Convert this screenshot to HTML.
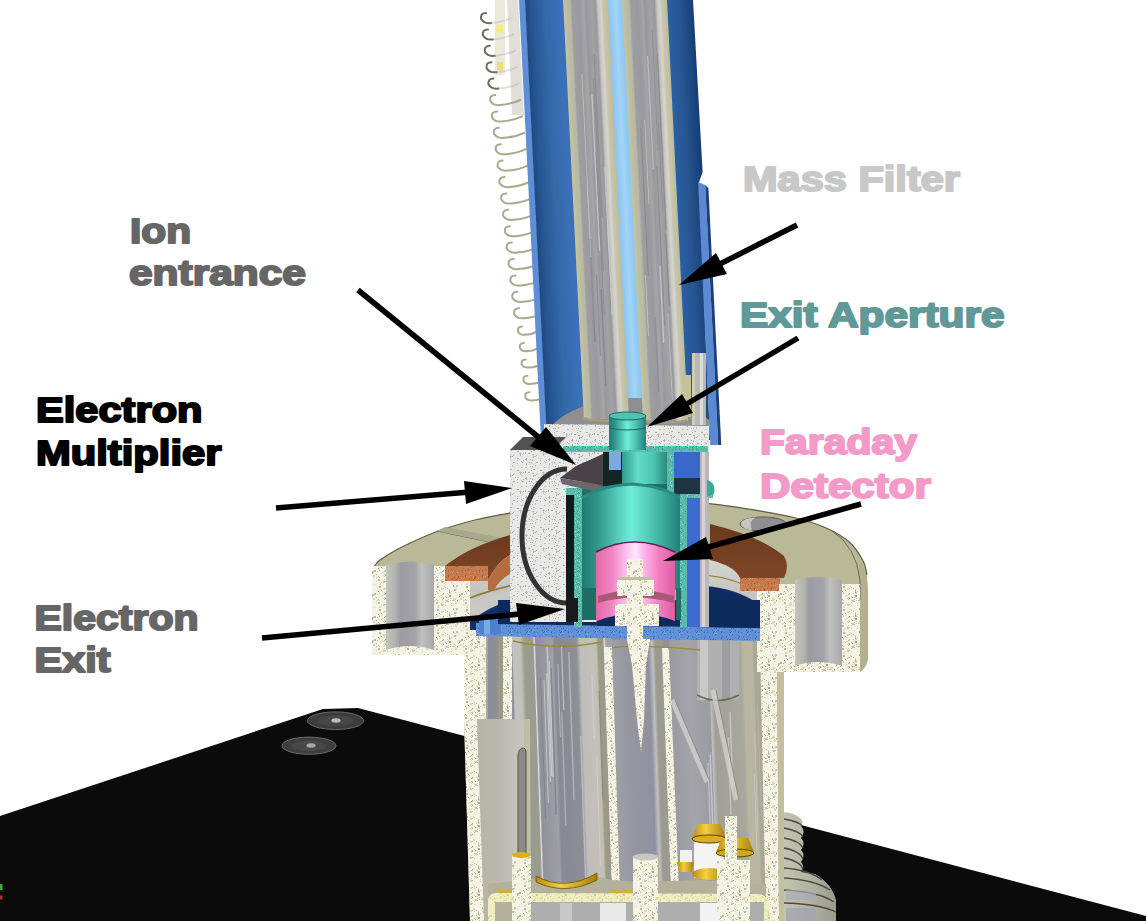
<!DOCTYPE html>
<html><head><meta charset="utf-8">
<style>
html,body{margin:0;padding:0;background:#fff;width:1146px;height:921px;overflow:hidden}
svg{display:block}
text{font-family:"Liberation Sans",sans-serif;font-weight:bold}
</style></head>
<body>
<svg width="1146" height="921" viewBox="0 0 1146 921">
<defs>
  <linearGradient id="gBlueL" x1="0" x2="1">
    <stop offset="0" stop-color="#1e4a80"/><stop offset="0.15" stop-color="#265592"/><stop offset="0.5" stop-color="#3468a8"/><stop offset="0.85" stop-color="#3c70b8"/><stop offset="1" stop-color="#3a6eb8"/>
  </linearGradient>
  <linearGradient id="gBlueR" x1="0" x2="1">
    <stop offset="0" stop-color="#2c62aa"/><stop offset="0.5" stop-color="#26548f"/><stop offset="0.85" stop-color="#1a447e"/><stop offset="1" stop-color="#143a74"/>
  </linearGradient>
  <linearGradient id="gRod" x1="0" x2="1">
    <stop offset="0" stop-color="#c4c4a6"/><stop offset="0.08" stop-color="#bcbda0"/><stop offset="0.15" stop-color="#b8b8a6"/><stop offset="0.19" stop-color="#9e9ea2"/>
    <stop offset="0.35" stop-color="#9a9a9e"/><stop offset="0.45" stop-color="#a6a6a8"/><stop offset="0.5" stop-color="#9898a0"/><stop offset="0.62" stop-color="#a2a2a4"/><stop offset="0.72" stop-color="#9a9a9e"/>
    <stop offset="0.77" stop-color="#c6c6c2"/><stop offset="0.84" stop-color="#d6d4cc"/><stop offset="0.88" stop-color="#c8c6ac"/><stop offset="1" stop-color="#bebc9e"/>
  </linearGradient>
  <linearGradient id="gLB" x1="0" x2="1"><stop offset="0" stop-color="#84c0ee"/><stop offset="0.5" stop-color="#a2d4f8"/><stop offset="1" stop-color="#86c2ee"/></linearGradient>
  <linearGradient id="gTeal" x1="0" x2="1">
    <stop offset="0" stop-color="#1f7a70"/><stop offset="0.15" stop-color="#2f9488"/><stop offset="0.5" stop-color="#6eeedc"/><stop offset="0.7" stop-color="#50c8b4"/><stop offset="1" stop-color="#23807a"/>
  </linearGradient>
  <linearGradient id="gTeal2" x1="0" x2="1">
    <stop offset="0" stop-color="#2f9c8c"/><stop offset="0.35" stop-color="#62dcc8"/><stop offset="0.7" stop-color="#4cc6b2"/><stop offset="1" stop-color="#2a8a7c"/>
  </linearGradient>
  <linearGradient id="gPink" x1="0" x2="1">
    <stop offset="0" stop-color="#e46aa6"/><stop offset="0.2" stop-color="#f084c4"/><stop offset="0.38" stop-color="#ffbef0"/><stop offset="0.5" stop-color="#ffe6fc"/><stop offset="0.62" stop-color="#fcb0ea"/><stop offset="0.8" stop-color="#f27cc0"/><stop offset="1" stop-color="#de5ea2"/>
  </linearGradient>
  <linearGradient id="gRodL" x1="0" x2="1">
    <stop offset="0" stop-color="#a8aa98"/><stop offset="0.08" stop-color="#a8aa98"/><stop offset="0.12" stop-color="#8c8c98"/><stop offset="0.6" stop-color="#8e8e98"/><stop offset="0.66" stop-color="#9a9a88"/><stop offset="1" stop-color="#9a9a88"/>
  </linearGradient>
  <linearGradient id="gCylG" x1="0" x2="1">
    <stop offset="0" stop-color="#c4c4bc"/><stop offset="0.18" stop-color="#b4b4b0"/><stop offset="0.3" stop-color="#9c9ca2"/><stop offset="0.6" stop-color="#a2a2a8"/><stop offset="0.75" stop-color="#c0c0c0"/><stop offset="1" stop-color="#a8a8a8"/>
  </linearGradient>
  <linearGradient id="gBig" x1="0" x2="1">
    <stop offset="0" stop-color="#c2c2be"/><stop offset="0.08" stop-color="#c0c0bc"/><stop offset="0.09" stop-color="#b8b8a0"/><stop offset="0.12" stop-color="#9a9c90"/>
    <stop offset="0.21" stop-color="#9a9c90"/><stop offset="0.22" stop-color="#e6e6e6"/><stop offset="0.235" stop-color="#90909a"/><stop offset="0.4" stop-color="#a0a0a8"/><stop offset="0.42" stop-color="#8a8a94"/><stop offset="0.5" stop-color="#8a8a94"/>
    <stop offset="0.64" stop-color="#8e8e96"/><stop offset="0.68" stop-color="#c0bebc"/><stop offset="0.82" stop-color="#c2c0b8"/><stop offset="0.84" stop-color="#c4c0a4"/>
    <stop offset="0.86" stop-color="#9a9a8c"/><stop offset="0.91" stop-color="#9a9a8c"/><stop offset="0.92" stop-color="#e0e0e0"/><stop offset="0.94" stop-color="#a0a0a0"/><stop offset="1" stop-color="#a0a0a0"/>
  </linearGradient>
  <linearGradient id="gPanel" x1="0" x2="1">
    <stop offset="0" stop-color="#b6b4a6"/><stop offset="0.5" stop-color="#bcbab0"/><stop offset="1" stop-color="#c6c4c0"/>
  </linearGradient>
  <linearGradient id="gMidG" x1="0" x2="1">
    <stop offset="0" stop-color="#9e9ea6"/><stop offset="0.3" stop-color="#9696a0"/><stop offset="0.72" stop-color="#9090a0"/><stop offset="0.8" stop-color="#c0c0c0"/><stop offset="0.86" stop-color="#9a9a90"/><stop offset="1" stop-color="#9a9a90"/>
  </linearGradient>
  <linearGradient id="gRightG" x1="0" x2="1">
    <stop offset="0" stop-color="#9a9aa2"/><stop offset="0.2" stop-color="#a4a4aa"/><stop offset="0.42" stop-color="#9a9aa2"/><stop offset="0.43" stop-color="#c0c0c0"/><stop offset="0.47" stop-color="#a0a098"/>
    <stop offset="0.77" stop-color="#a8a89c"/><stop offset="0.8" stop-color="#b8b6a0"/><stop offset="0.9" stop-color="#b8b6a0"/><stop offset="0.92" stop-color="#a8a894"/><stop offset="1" stop-color="#a8a894"/>
  </linearGradient>
  <linearGradient id="gKhakiSide" x1="0" x2="1">
    <stop offset="0" stop-color="#d2ceaa"/><stop offset="1" stop-color="#b8b494"/>
  </linearGradient>
  <linearGradient id="gBrownTop" x1="0" x2="0" y1="0" y2="1">
    <stop offset="0" stop-color="#6a3a1c"/><stop offset="1" stop-color="#7e4626"/>
  </linearGradient>
  <linearGradient id="gRings" x1="0" x2="0" y1="0" y2="1">
    <stop offset="0" stop-color="#d6d6d0"/><stop offset="0.5" stop-color="#c4c4c0"/><stop offset="1" stop-color="#cfcfca"/>
  </linearGradient>
  <linearGradient id="gGold" x1="0" x2="1">
    <stop offset="0" stop-color="#b88a10"/><stop offset="0.4" stop-color="#f4d040"/><stop offset="1" stop-color="#a87c08"/>
  </linearGradient>
  <linearGradient id="gInsul" x1="0" x2="1">
    <stop offset="0" stop-color="#c6c5b2"/><stop offset="0.5" stop-color="#b4b3a2"/><stop offset="1" stop-color="#9a998c"/>
  </linearGradient>
  <pattern id="speck" width="29" height="23" patternUnits="userSpaceOnUse">
    <rect width="29" height="23" fill="#f4f3e6"/>
    <rect x="14" y="17" width="2" height="2" fill="#d8d6c0"/><rect x="14" y="16" width="1" height="1" fill="#d8d6c0"/><rect x="5" y="16" width="1" height="1" fill="#dcdab8"/><rect x="3" y="14" width="1" height="1" fill="#a8a684"/><rect x="2" y="17" width="1" height="1" fill="#d8d6c0"/><rect x="19" y="12" width="1" height="1" fill="#dcdab8"/><rect x="19" y="0" width="1" height="1" fill="#d8d6c0"/><rect x="1" y="1" width="1" height="1" fill="#bdbb98"/><rect x="19" y="0" width="2" height="2" fill="#d8d6c0"/><rect x="10" y="14" width="1" height="1" fill="#e4e090"/><rect x="16" y="7" width="1" height="1" fill="#c4c4b4"/><rect x="15" y="0" width="1" height="1" fill="#c4c4b4"/><rect x="14" y="20" width="2" height="2" fill="#a8a684"/><rect x="17" y="2" width="1" height="1" fill="#c4c4b4"/><rect x="10" y="7" width="1" height="1" fill="#e4e090"/><rect x="0" y="2" width="1" height="1" fill="#e4e090"/><rect x="12" y="3" width="1" height="1" fill="#d8d6c0"/><rect x="12" y="2" width="1" height="1" fill="#cfcdb4"/><rect x="6" y="6" width="2" height="2" fill="#cfcdb4"/><rect x="12" y="22" width="2" height="2" fill="#dcdab8"/><rect x="2" y="18" width="1" height="1" fill="#c4c4b4"/><rect x="24" y="21" width="1" height="1" fill="#a8a684"/><rect x="2" y="9" width="1" height="1" fill="#a8a684"/><rect x="13" y="3" width="1" height="1" fill="#bdbb98"/><rect x="22" y="3" width="1" height="1" fill="#cfcdb4"/><rect x="14" y="15" width="1" height="1" fill="#bdbb98"/><rect x="14" y="16" width="1" height="1" fill="#bdbb98"/><rect x="13" y="20" width="1" height="1" fill="#dcdab8"/><rect x="12" y="13" width="1" height="1" fill="#bdbb98"/><rect x="8" y="18" width="1" height="1" fill="#a8a684"/><rect x="6" y="5" width="1" height="1" fill="#dcdab8"/><rect x="1" y="4" width="2" height="2" fill="#bdbb98"/><rect x="8" y="0" width="1" height="1" fill="#d8d6c0"/><rect x="26" y="9" width="1" height="1" fill="#dcdab8"/><rect x="2" y="2" width="1" height="1" fill="#bdbb98"/><rect x="0" y="19" width="1" height="1" fill="#a8a684"/><rect x="19" y="14" width="2" height="2" fill="#bdbb98"/><rect x="26" y="18" width="2" height="2" fill="#bdbb98"/><rect x="5" y="20" width="1" height="1" fill="#bdbb98"/><rect x="7" y="19" width="1" height="1" fill="#bdbb98"/><rect x="5" y="20" width="1" height="1" fill="#e4e090"/><rect x="21" y="12" width="1" height="1" fill="#dcdab8"/><rect x="13" y="1" width="1" height="1" fill="#cfcdb4"/><rect x="1" y="16" width="1" height="1" fill="#a8a684"/><rect x="23" y="22" width="1" height="1" fill="#dcdab8"/><rect x="13" y="19" width="1" height="1" fill="#dcdab8"/><rect x="16" y="5" width="1" height="1" fill="#c4c4b4"/><rect x="4" y="7" width="1" height="1" fill="#dcdab8"/><rect x="8" y="6" width="1" height="1" fill="#bdbb98"/><rect x="2" y="8" width="2" height="2" fill="#dcdab8"/><rect x="7" y="1" width="1" height="1" fill="#cfcdb4"/><rect x="9" y="11" width="1" height="1" fill="#e4e090"/><rect x="2" y="11" width="2" height="2" fill="#bdbb98"/><rect x="10" y="21" width="1" height="1" fill="#c4c4b4"/><rect x="18" y="1" width="2" height="2" fill="#cfcdb4"/><rect x="11" y="22" width="1" height="1" fill="#a8a684"/><rect x="0" y="19" width="1" height="1" fill="#c4c4b4"/><rect x="15" y="2" width="1" height="1" fill="#c4c4b4"/><rect x="10" y="4" width="1" height="1" fill="#cfcdb4"/><rect x="14" y="17" width="1" height="1" fill="#a8a684"/><rect x="28" y="22" width="1" height="1" fill="#bdbb98"/><rect x="11" y="2" width="2" height="2" fill="#c4c4b4"/><rect x="28" y="2" width="2" height="2" fill="#d8d6c0"/><rect x="25" y="0" width="2" height="2" fill="#d8d6c0"/><rect x="18" y="0" width="2" height="2" fill="#e4e090"/><rect x="12" y="18" width="1" height="1" fill="#cfcdb4"/><rect x="2" y="2" width="1" height="1" fill="#c4c4b4"/><rect x="8" y="13" width="1" height="1" fill="#c4c4b4"/><rect x="12" y="22" width="2" height="2" fill="#e4e090"/><rect x="14" y="14" width="1" height="1" fill="#d8d6c0"/><rect x="16" y="16" width="1" height="1" fill="#cfcdb4"/><rect x="19" y="2" width="1" height="1" fill="#dcdab8"/><rect x="7" y="22" width="2" height="2" fill="#cfcdb4"/><rect x="24" y="19" width="2" height="2" fill="#c4c4b4"/><rect x="8" y="0" width="1" height="1" fill="#a8a684"/><rect x="4" y="21" width="1" height="1" fill="#e4e090"/><rect x="16" y="5" width="1" height="1" fill="#d8d6c0"/><rect x="21" y="14" width="1" height="1" fill="#dcdab8"/><rect x="10" y="12" width="1" height="1" fill="#c4c4b4"/><rect x="6" y="20" width="1" height="1" fill="#dcdab8"/><rect x="28" y="6" width="1" height="1" fill="#dcdab8"/><rect x="18" y="10" width="1" height="1" fill="#bdbb98"/><rect x="4" y="15" width="1" height="1" fill="#a8a684"/><rect x="22" y="2" width="1" height="1" fill="#a8a684"/><rect x="3" y="14" width="1" height="1" fill="#dcdab8"/><rect x="6" y="13" width="2" height="2" fill="#dcdab8"/><rect x="21" y="10" width="2" height="2" fill="#c4c4b4"/><rect x="10" y="2" width="1" height="1" fill="#d8d6c0"/><rect x="8" y="19" width="1" height="1" fill="#cfcdb4"/><rect x="18" y="11" width="1" height="1" fill="#a8a684"/><rect x="20" y="4" width="2" height="2" fill="#dcdab8"/><rect x="6" y="0" width="1" height="1" fill="#d8d6c0"/><rect x="7" y="4" width="1" height="1" fill="#d8d6c0"/><rect x="20" y="3" width="1" height="1" fill="#dcdab8"/><rect x="20" y="17" width="1" height="1" fill="#c4c4b4"/>
  </pattern>
  <pattern id="speckG" width="23" height="19" patternUnits="userSpaceOnUse">
    <rect width="23" height="19" fill="#e8e8e6"/>
    <rect x="20" y="8" width="1" height="1" fill="#acacac"/><rect x="19" y="11" width="1" height="1" fill="#d4d4d4"/><rect x="3" y="3" width="1" height="1" fill="#d4d4d4"/><rect x="14" y="15" width="1" height="1" fill="#d4d4d4"/><rect x="9" y="2" width="1" height="1" fill="#c8c8c8"/><rect x="3" y="10" width="1" height="1" fill="#acacac"/><rect x="15" y="5" width="1" height="1" fill="#b4b4b4"/><rect x="0" y="6" width="1" height="1" fill="#b4b4b4"/><rect x="11" y="4" width="1" height="1" fill="#b4b4b4"/><rect x="0" y="16" width="1" height="1" fill="#acacac"/><rect x="20" y="2" width="1" height="1" fill="#acacac"/><rect x="16" y="11" width="1" height="1" fill="#c8c8c8"/><rect x="11" y="7" width="1" height="1" fill="#b4b4b4"/><rect x="17" y="16" width="1" height="1" fill="#acacac"/><rect x="20" y="7" width="1" height="1" fill="#b4b4b4"/><rect x="6" y="7" width="1" height="1" fill="#d4d4d4"/><rect x="7" y="6" width="1" height="1" fill="#b4b4b4"/><rect x="15" y="11" width="1" height="1" fill="#bcbcbc"/><rect x="0" y="8" width="1" height="1" fill="#d4d4d4"/><rect x="8" y="6" width="1" height="1" fill="#b4b4b4"/><rect x="11" y="14" width="1" height="1" fill="#acacac"/><rect x="11" y="2" width="1" height="1" fill="#c8c8c8"/><rect x="3" y="7" width="1" height="1" fill="#d4d4d4"/><rect x="6" y="10" width="1" height="1" fill="#c8c8c8"/><rect x="15" y="0" width="1" height="1" fill="#d4d4d4"/><rect x="20" y="11" width="1" height="1" fill="#bcbcbc"/><rect x="21" y="3" width="1" height="1" fill="#d4d4d4"/><rect x="22" y="6" width="1" height="1" fill="#d4d4d4"/><rect x="5" y="13" width="1" height="1" fill="#acacac"/><rect x="2" y="12" width="1" height="1" fill="#d4d4d4"/><rect x="12" y="2" width="1" height="1" fill="#c8c8c8"/><rect x="5" y="4" width="1" height="1" fill="#bcbcbc"/><rect x="4" y="18" width="1" height="1" fill="#d4d4d4"/><rect x="20" y="4" width="1" height="1" fill="#b4b4b4"/><rect x="19" y="15" width="1" height="1" fill="#acacac"/><rect x="4" y="17" width="1" height="1" fill="#b4b4b4"/><rect x="4" y="0" width="1" height="1" fill="#bcbcbc"/><rect x="20" y="3" width="1" height="1" fill="#b4b4b4"/><rect x="4" y="13" width="1" height="1" fill="#c8c8c8"/><rect x="6" y="0" width="1" height="1" fill="#acacac"/><rect x="6" y="9" width="1" height="1" fill="#b4b4b4"/><rect x="7" y="18" width="1" height="1" fill="#acacac"/><rect x="8" y="17" width="1" height="1" fill="#d4d4d4"/><rect x="4" y="1" width="1" height="1" fill="#acacac"/><rect x="14" y="18" width="1" height="1" fill="#b4b4b4"/><rect x="13" y="16" width="1" height="1" fill="#c8c8c8"/><rect x="17" y="4" width="1" height="1" fill="#b4b4b4"/><rect x="16" y="0" width="1" height="1" fill="#d4d4d4"/><rect x="5" y="0" width="1" height="1" fill="#c8c8c8"/><rect x="5" y="4" width="1" height="1" fill="#d4d4d4"/><rect x="19" y="3" width="1" height="1" fill="#b4b4b4"/><rect x="1" y="10" width="1" height="1" fill="#b4b4b4"/><rect x="16" y="17" width="1" height="1" fill="#d4d4d4"/><rect x="3" y="17" width="1" height="1" fill="#bcbcbc"/><rect x="7" y="6" width="1" height="1" fill="#acacac"/><rect x="1" y="3" width="1" height="1" fill="#b4b4b4"/><rect x="14" y="17" width="1" height="1" fill="#bcbcbc"/><rect x="2" y="14" width="1" height="1" fill="#acacac"/><rect x="19" y="16" width="1" height="1" fill="#b4b4b4"/><rect x="16" y="6" width="1" height="1" fill="#acacac"/><rect x="14" y="16" width="1" height="1" fill="#b4b4b4"/><rect x="15" y="16" width="1" height="1" fill="#c8c8c8"/><rect x="22" y="16" width="1" height="1" fill="#acacac"/><rect x="17" y="6" width="1" height="1" fill="#d4d4d4"/><rect x="4" y="13" width="1" height="1" fill="#bcbcbc"/><rect x="12" y="14" width="1" height="1" fill="#acacac"/><rect x="2" y="7" width="1" height="1" fill="#d4d4d4"/><rect x="2" y="6" width="1" height="1" fill="#acacac"/><rect x="3" y="4" width="1" height="1" fill="#acacac"/><rect x="4" y="8" width="1" height="1" fill="#c8c8c8"/>
  </pattern>
  <pattern id="speckT" width="17" height="13" patternUnits="userSpaceOnUse">
    <rect width="17" height="13" fill="#5cbcac"/>
    <rect x="14" y="3" width="1" height="1" fill="#8ad8c8"/><rect x="12" y="7" width="1" height="1" fill="#3a9a8a"/><rect x="7" y="2" width="1" height="1" fill="#7accbc"/><rect x="16" y="6" width="1" height="1" fill="#4aa898"/><rect x="13" y="3" width="1" height="1" fill="#4aa898"/><rect x="10" y="1" width="1" height="1" fill="#4aa898"/><rect x="0" y="5" width="1" height="1" fill="#7accbc"/><rect x="14" y="11" width="1" height="1" fill="#8ad8c8"/><rect x="12" y="5" width="1" height="1" fill="#4aa898"/><rect x="16" y="1" width="1" height="1" fill="#8ad8c8"/><rect x="7" y="1" width="1" height="1" fill="#8ad8c8"/><rect x="8" y="4" width="1" height="1" fill="#8ad8c8"/><rect x="5" y="4" width="1" height="1" fill="#3a9a8a"/><rect x="13" y="10" width="1" height="1" fill="#4aa898"/><rect x="12" y="2" width="1" height="1" fill="#7accbc"/><rect x="10" y="1" width="1" height="1" fill="#4aa898"/><rect x="1" y="12" width="1" height="1" fill="#3a9a8a"/><rect x="13" y="1" width="1" height="1" fill="#4aa898"/><rect x="0" y="10" width="1" height="1" fill="#8ad8c8"/><rect x="8" y="1" width="1" height="1" fill="#3a9a8a"/><rect x="2" y="4" width="1" height="1" fill="#8ad8c8"/><rect x="14" y="0" width="1" height="1" fill="#4aa898"/><rect x="13" y="4" width="1" height="1" fill="#3a9a8a"/><rect x="1" y="8" width="1" height="1" fill="#3a9a8a"/><rect x="3" y="2" width="1" height="1" fill="#4aa898"/><rect x="1" y="2" width="1" height="1" fill="#3a9a8a"/><rect x="9" y="10" width="1" height="1" fill="#4aa898"/><rect x="16" y="12" width="1" height="1" fill="#3a9a8a"/><rect x="9" y="7" width="1" height="1" fill="#3a9a8a"/><rect x="8" y="5" width="1" height="1" fill="#8ad8c8"/><rect x="8" y="0" width="1" height="1" fill="#8ad8c8"/><rect x="0" y="11" width="1" height="1" fill="#3a9a8a"/><rect x="16" y="7" width="1" height="1" fill="#3a9a8a"/><rect x="14" y="1" width="1" height="1" fill="#7accbc"/><rect x="15" y="8" width="1" height="1" fill="#7accbc"/><rect x="16" y="4" width="1" height="1" fill="#3a9a8a"/><rect x="7" y="5" width="1" height="1" fill="#3a9a8a"/><rect x="4" y="6" width="1" height="1" fill="#4aa898"/><rect x="1" y="2" width="1" height="1" fill="#8ad8c8"/><rect x="2" y="10" width="1" height="1" fill="#4aa898"/>
  </pattern>
  <pattern id="speckB" width="17" height="13" patternUnits="userSpaceOnUse">
    <rect width="17" height="13" fill="#6090d6"/>
    <rect x="13" y="2" width="1" height="1" fill="#3a68b0"/><rect x="2" y="10" width="1" height="1" fill="#5a84cc"/><rect x="16" y="10" width="1" height="1" fill="#4a78c0"/><rect x="7" y="11" width="1" height="1" fill="#4a78c0"/><rect x="1" y="7" width="1" height="1" fill="#7ea8e4"/><rect x="5" y="4" width="1" height="1" fill="#5a84cc"/><rect x="0" y="4" width="1" height="1" fill="#4a78c0"/><rect x="10" y="8" width="1" height="1" fill="#4a78c0"/><rect x="7" y="0" width="1" height="1" fill="#4a78c0"/><rect x="6" y="5" width="1" height="1" fill="#7ea8e4"/><rect x="0" y="5" width="1" height="1" fill="#5a84cc"/><rect x="2" y="7" width="1" height="1" fill="#4a78c0"/><rect x="16" y="10" width="1" height="1" fill="#7ea8e4"/><rect x="7" y="8" width="1" height="1" fill="#3a68b0"/><rect x="2" y="4" width="1" height="1" fill="#3a68b0"/><rect x="4" y="6" width="1" height="1" fill="#3a68b0"/><rect x="12" y="0" width="1" height="1" fill="#4a78c0"/><rect x="9" y="10" width="1" height="1" fill="#7ea8e4"/><rect x="2" y="9" width="1" height="1" fill="#7ea8e4"/><rect x="12" y="12" width="1" height="1" fill="#4a78c0"/><rect x="15" y="2" width="1" height="1" fill="#4a78c0"/><rect x="4" y="0" width="1" height="1" fill="#5a84cc"/><rect x="16" y="2" width="1" height="1" fill="#3a68b0"/><rect x="7" y="1" width="1" height="1" fill="#3a68b0"/><rect x="1" y="2" width="1" height="1" fill="#4a78c0"/><rect x="3" y="6" width="1" height="1" fill="#5a84cc"/><rect x="1" y="10" width="1" height="1" fill="#3a68b0"/><rect x="7" y="7" width="1" height="1" fill="#4a78c0"/><rect x="0" y="7" width="1" height="1" fill="#3a68b0"/><rect x="16" y="8" width="1" height="1" fill="#3a68b0"/><rect x="16" y="1" width="1" height="1" fill="#5a84cc"/><rect x="8" y="12" width="1" height="1" fill="#3a68b0"/><rect x="8" y="3" width="1" height="1" fill="#7ea8e4"/><rect x="7" y="11" width="1" height="1" fill="#5a84cc"/><rect x="15" y="6" width="1" height="1" fill="#3a68b0"/><rect x="15" y="10" width="1" height="1" fill="#4a78c0"/><rect x="1" y="9" width="1" height="1" fill="#7ea8e4"/><rect x="2" y="9" width="1" height="1" fill="#7ea8e4"/><rect x="10" y="4" width="1" height="1" fill="#4a78c0"/><rect x="4" y="0" width="1" height="1" fill="#5a84cc"/>
  </pattern>
  <pattern id="speckBr" width="17" height="13" patternUnits="userSpaceOnUse">
    <rect width="17" height="13" fill="#c47a4c"/>
    <rect x="1" y="7" width="1" height="1" fill="#d89468"/><rect x="3" y="11" width="1" height="1" fill="#a05830"/><rect x="15" y="4" width="1" height="1" fill="#b06a3c"/><rect x="16" y="4" width="1" height="1" fill="#d89468"/><rect x="14" y="7" width="1" height="1" fill="#a05830"/><rect x="6" y="4" width="1" height="1" fill="#a05830"/><rect x="15" y="0" width="1" height="1" fill="#d89468"/><rect x="14" y="1" width="1" height="1" fill="#b06a3c"/><rect x="14" y="4" width="1" height="1" fill="#d89468"/><rect x="6" y="3" width="1" height="1" fill="#a05830"/><rect x="2" y="2" width="1" height="1" fill="#b06a3c"/><rect x="16" y="4" width="1" height="1" fill="#d89468"/><rect x="4" y="9" width="1" height="1" fill="#b06a3c"/><rect x="16" y="4" width="1" height="1" fill="#a05830"/><rect x="11" y="3" width="1" height="1" fill="#d89468"/><rect x="15" y="6" width="1" height="1" fill="#a05830"/><rect x="5" y="0" width="1" height="1" fill="#d89468"/><rect x="14" y="6" width="1" height="1" fill="#d89468"/><rect x="4" y="6" width="1" height="1" fill="#d89468"/><rect x="12" y="5" width="1" height="1" fill="#a05830"/><rect x="10" y="0" width="1" height="1" fill="#d89468"/><rect x="10" y="6" width="1" height="1" fill="#a05830"/><rect x="6" y="11" width="1" height="1" fill="#a05830"/><rect x="9" y="4" width="1" height="1" fill="#d89468"/><rect x="2" y="6" width="1" height="1" fill="#d89468"/><rect x="2" y="5" width="1" height="1" fill="#d89468"/><rect x="8" y="0" width="1" height="1" fill="#d89468"/><rect x="3" y="0" width="1" height="1" fill="#b06a3c"/><rect x="9" y="10" width="1" height="1" fill="#a05830"/><rect x="7" y="4" width="1" height="1" fill="#d89468"/><rect x="16" y="5" width="1" height="1" fill="#a05830"/><rect x="11" y="12" width="1" height="1" fill="#d89468"/><rect x="0" y="12" width="1" height="1" fill="#b06a3c"/><rect x="12" y="8" width="1" height="1" fill="#b06a3c"/><rect x="6" y="11" width="1" height="1" fill="#a05830"/>
  </pattern>
</defs>
<!-- floor -->
<polygon points="0,816 323,709 358,708 1146,916 1146,921 0,921" fill="#0b0b0b"/>
<ellipse cx="335.5" cy="720.7" rx="28" ry="8.8" fill="#3c3c3c" stroke="#6a6a6a" stroke-width="1"/>
<ellipse cx="335.5" cy="720.7" rx="18" ry="5.5" fill="#464646"/>
<ellipse cx="336" cy="720.5" rx="4.5" ry="2.2" fill="#bdbdbd"/>
<ellipse cx="309" cy="745.7" rx="27" ry="8.6" fill="#3e3e3e" stroke="#6a6a6a" stroke-width="1"/>
<ellipse cx="309" cy="745.7" rx="17" ry="5.4" fill="#484848"/>
<ellipse cx="311" cy="745.5" rx="4.5" ry="2.2" fill="#a8a8a8"/>
<rect x="0" y="884" width="2.5" height="6" fill="#3aa83a"/>
<rect x="0" y="895.5" width="2.5" height="4" fill="#a83030"/>
<!-- ribbed insulator -->
<g id="insul">
  <path d="M782,812 L790,813 Q806,818 801,826 Q806,831 801,838 Q806,843 801,850 Q806,855 801,862 Q805,866 801,872 L815,874 Q832,884 836,900 L836,921 L782,921 Z" fill="url(#gInsul)"/>
  <g fill="none" stroke="#4a4a40" stroke-width="1.3">
    <path d="M784,819 Q800,822 802,826"/>
    <path d="M784,828 Q800,831 803,837"/>
    <path d="M784,838 Q800,841 803,848"/>
    <path d="M784,848 Q800,851 803,859"/>
    <path d="M784,858 Q800,861 803,869"/>
    <path d="M784,868 Q810,870 822,880"/>
    <path d="M784,878 Q815,880 830,890"/>
    <path d="M784,890 Q820,892 834,902"/>
    <path d="M784,903 Q820,904 836,912"/>
  </g>
  <rect x="786" y="890" width="30" height="10" fill="#a8acb8" opacity="0.7"/>
  <rect x="786" y="908" width="30" height="13" fill="#9ea2b0" opacity="0.7"/>
</g>
<!-- lower body -->
<g id="lower">
  <polygon points="464,628 784,628 784,921 470,921 464,719" fill="#92929a"/>
  <!-- right region greys -->
  <g transform="matrix(1,0,0.035,1,-22.4,0)">
  <rect x="669" y="636" width="92" height="285" fill="url(#gRightG)"/>
  </g>
  <!-- cylinder top right (x 700-740) -->
  <rect x="697" y="640" width="42" height="60" fill="#b0b0b0"/>
  <rect x="700" y="640" width="8" height="60" fill="#c8c8c4"/>
  <rect x="722" y="640" width="8" height="60" fill="#9e9ea2"/>
  <path d="M697,695 Q718,706 739,695" fill="none" stroke="#6a6850" stroke-width="1.5"/>
  <g transform="matrix(1,0,0.035,1,-22.4,0)">
  <!-- big center-left cylinder -->
  <rect x="512" y="636" width="100" height="285" fill="url(#gBig)"/>
  <!-- grey between strips -->
  <rect x="612" y="640" width="50" height="281" fill="url(#gMidG)"/>
  <rect x="576.6" y="736" width="1.3" height="145" fill="#c4c4ca" opacity="0.75"/>
  <rect x="590.1" y="674" width="1.3" height="65" fill="#d2d2d6" opacity="0.75"/>
  <rect x="545.0" y="673" width="1.1" height="109" fill="#d2d2d6" opacity="0.75"/>
  <rect x="538.8" y="677" width="0.9" height="142" fill="#7c7c86" opacity="0.75"/>
  <rect x="547.9" y="661" width="1.3" height="116" fill="#d2d2d6" opacity="0.75"/>
  <rect x="546.2" y="646" width="1.5" height="130" fill="#d2d2d6" opacity="0.75"/>
  <rect x="592.1" y="756" width="0.9" height="109" fill="#d2d2d6" opacity="0.75"/>
  <rect x="549.3" y="668" width="1.5" height="147" fill="#7c7c86" opacity="0.75"/>
  <rect x="556.5" y="664" width="1.0" height="73" fill="#c4c4ca" opacity="0.75"/>
  <rect x="558.6" y="712" width="1.4" height="114" fill="#b8b8c0" opacity="0.75"/>
  <rect x="542.1" y="680" width="1.0" height="123" fill="#d2d2d6" opacity="0.75"/>
  <rect x="567.8" y="652" width="1.3" height="148" fill="#c4c4ca" opacity="0.75"/>
  <rect x="596.9" y="691" width="1.0" height="109" fill="#7c7c86" opacity="0.75"/>
  <rect x="560.7" y="646" width="1.2" height="64" fill="#d2d2d6" opacity="0.75"/>
  <rect x="726.8" y="712" width="1.5" height="75" fill="#d2d2d6" opacity="0.7"/>
  <rect x="705.8" y="752" width="1.0" height="107" fill="#c4c4ca" opacity="0.7"/>
  <rect x="724.2" y="737" width="1.3" height="78" fill="#d2d2d6" opacity="0.7"/>
  <rect x="750.9" y="734" width="0.8" height="97" fill="#c4c4ca" opacity="0.7"/>
  <rect x="705.5" y="755" width="1.4" height="79" fill="#d2d2d6" opacity="0.7"/>
  <rect x="703.0" y="763" width="1.3" height="103" fill="#d2d2d6" opacity="0.7"/>
  <rect x="754.8" y="705" width="0.8" height="119" fill="#b8b8c0" opacity="0.7"/>
  <rect x="749.3" y="774" width="0.7" height="81" fill="#d2d2d6" opacity="0.7"/>
  </g>
  <path d="M513,641 Q556,651 602,642" fill="none" stroke="#9a8a30" stroke-width="1.6"/>
  <path d="M608,648 Q640,644 700,650" fill="none" stroke="#9a8a30" stroke-width="1.4"/>
  <!-- left grey rod -->
  <rect x="486" y="636" width="18" height="83" fill="url(#gRodL)"/>
  <polygon points="503,636 512,636 512,719 503,719" fill="url(#speck)"/>
  <!-- panel -->
  <polygon points="477,719 524,719 524,921 482,921" fill="url(#gPanel)"/>
  <polygon points="524,719 530,719 531,921 525,921" fill="#c0bea4"/>
  <path d="M518,921 L518,756 Q518,748 524,748 Q526,749 526,752 L526,921 Z" fill="#8a8890" stroke="#5a5820" stroke-width="1"/>
  
  <!-- left wall -->
  <polygon points="464,628 486,628 486,719 477,719 484,921 470,921 464,719" fill="url(#speck)"/>
  <!-- speckled strips -->
  <polygon points="604,647 612,647 620,893 612,893" fill="url(#speck)"/>
  <polygon points="662,648 669,648 679,890 671,890" fill="url(#speck)"/>
  <!-- center pin -->
  <polygon points="627,600 648,600 650,640 646,665 644,720 641,752 637,720 632,665 627,640" fill="url(#speck)"/>
  <!-- diagonal wires -->
  <g stroke="#d8d8d0" stroke-width="5" opacity="0.7">
    <line x1="672" y1="700" x2="707" y2="782"/>
    <line x1="713" y1="690" x2="736" y2="800"/>
  </g>
  <g stroke="#8a8a80" stroke-width="1" opacity="0.8">
    <line x1="675" y1="700" x2="710" y2="782"/>
    <line x1="716" y1="690" x2="739" y2="800"/>
  </g>
  <!-- right wall -->
  <polygon points="760,648 777,648 779,921 766,921" fill="url(#speck)"/>
  <polygon points="777,670 784,670 784,921 779,921" fill="#c2bf9e"/>
  <!-- bottom base -->
  <path d="M488,884 L522,880 L540,878 Q565,888 595,876 L612,880 L640,882 L700,880 L766,884 L766,895 L488,895 Z" fill="#b3b19b"/>
  <path d="M536,876 Q565,892 597,873 L597,880 Q565,896 536,882 Z" fill="url(#gGold)" stroke="#6a5000" stroke-width="0.8"/>
  <path d="M498,888 Q505,892 512,889 L512,893 Q505,895 498,892 Z" fill="#d8b020"/>
  <path d="M612,889 Q620,893 632,889 L632,894 Q620,897 612,893 Z" fill="#d8b020"/>
  <path d="M488,921 L488,902 Q488,893 497,893 L758,894 Q768,895 770,904 L770,921 L764,921 L764,906 Q762,902 756,902 L499,902 Q495,902 495,908 L495,921 Z" fill="url(#speck)"/>
  <path d="M488,921 L488,902 Q488,893 497,893 L758,894 Q768,895 770,904 L770,921 L764,921 L764,906 Q762,902 756,902 L499,902 Q495,902 495,908 L495,921 Z" fill="#efe9a8" opacity="0.55"/>
  <rect x="495" y="902" width="269" height="19" fill="#aeaeae"/>
  <rect x="495" y="902" width="17" height="19" fill="#b4b29c"/>
  <rect x="600" y="903" width="26" height="18" fill="#e8e8e6"/>
  <rect x="560" y="903" width="12" height="18" fill="#c8c8c8"/>
  <rect x="700" y="903" width="18" height="18" fill="#f2f2f2"/>
  <!-- gold parts right -->
  <rect x="694" y="838" width="30" height="40" fill="#f4f4f2"/>
  <polygon points="692,838 726,838 720,824 698,824" fill="url(#gGold)"/>
  <ellipse cx="709" cy="839" rx="17" ry="4" fill="#d8b020" stroke="#5a4400" stroke-width="1"/>
  <ellipse cx="709" cy="874" rx="17" ry="6" fill="url(#gGold)"/>
  <polygon points="716,852 754,852 748,838 722,838" fill="url(#gGold)"/>
  <ellipse cx="735" cy="853" rx="19" ry="4" fill="#d0a820" stroke="#5a4400" stroke-width="1"/>
  <rect x="680" y="850" width="12" height="20" fill="#f0f0ee"/>
  <polygon points="677,862 694,862 692,872 679,872" fill="url(#gGold)"/>
  <!-- pins -->
  <rect x="512" y="855" width="19" height="66" fill="url(#speck)"/>
  <ellipse cx="521.5" cy="855" rx="9.5" ry="3" fill="#d8b020"/>
  <rect x="633" y="856" width="25" height="65" fill="url(#speck)"/>
  <ellipse cx="645.5" cy="857" rx="12.5" ry="3.5" fill="#c8c8c0"/>
  <polygon points="725,816 737,816 737,860 750,860 750,921 717,921 717,860 725,860" fill="url(#speck)"/>
</g>
<!-- flange -->
<g id="flange">
  <path d="M373,568 C374.2,566.7 375.5,563.3 380,560 C384.5,556.7 390.5,552.8 400,548 C409.5,543.2 424.5,536.2 437,531.5 C449.5,526.8 462.4,523.1 475,520 C487.6,516.9 498.3,515.0 512.5,512.7 C526.7,510.4 542.1,507.8 560,506 C577.9,504.2 601.7,502.8 620,502 C638.3,501.2 654.8,501.2 670,501.5 C685.2,501.8 698.2,502.6 711,503.8 C723.8,505.0 733.2,506.5 747,508.8 C760.8,511.1 780.9,514.4 794,517.5 C807.1,520.6 816.4,523.7 825.6,527.7 C834.8,531.8 842.8,536.3 849,541.8 C855.2,547.3 860.0,555.2 863,560.7 C866.0,566.2 866.3,572.6 867,575 L867,600 L373,600 Z" fill="#bab997"/>
  <path d="M373,568 C374.2,566.7 375.5,563.3 380,560 C384.5,556.7 390.5,552.8 400,548 C409.5,543.2 424.5,536.2 437,531.5 C449.5,526.8 462.4,523.1 475,520 C487.6,516.9 498.3,515.0 512.5,512.7 C526.7,510.4 542.1,507.8 560,506 C577.9,504.2 601.7,502.8 620,502 C638.3,501.2 654.8,501.2 670,501.5 C685.2,501.8 698.2,502.6 711,503.8 C723.8,505.0 733.2,506.5 747,508.8 C760.8,511.1 780.9,514.4 794,517.5 C807.1,520.6 816.4,523.7 825.6,527.7 C834.8,531.8 842.8,536.3 849,541.8 C855.2,547.3 860.0,555.2 863,560.7 C866.0,566.2 866.3,572.6 867,575" fill="none" stroke="#5e5c44" stroke-width="1.2"/>
  <!-- outer right side face -->
  <path d="M859,560 Q868,570 868,592 L868,660 Q866,668 860,672 Z" fill="#b2b08e"/>
  <path d="M832,531 Q856,546 860,580 L860,600" fill="none" stroke="#6e6c58" stroke-width="1"/>
  <!-- hole on top right -->
  <ellipse cx="763" cy="524" rx="23" ry="7" fill="#8e8e94" stroke="#5e5c48" stroke-width="1"/>
  <path d="M741,524 Q742,518 756,517.5 Q748,521 752,530.5 Q742,529 741,524Z" fill="#c6c6c0"/>
  <!-- groove lines on left top -->
  <path d="M437,531 L513,547" stroke="#6e6c58" stroke-width="1"/>
  <polygon points="437,531 445,527 513,540 513,547" fill="#a8a88c"/>
  <!-- inner bore left -->
  <rect x="470" y="550" width="44" height="80" fill="url(#gRings)"/>
  <path d="M470,598 Q490,590 514,585" fill="none" stroke="#8c7a30" stroke-width="1.5"/>
  <path d="M470,608 Q490,598 514,592" fill="none" stroke="#c8c8c4" stroke-width="6"/>
  <path d="M470,622 Q488,606 514,600 L514,630 L470,630 Z" fill="#10306a"/>
  <!-- inner bore right -->
  <rect x="705" y="560" width="54" height="70" fill="url(#gRings)"/>
  <path d="M705,586 Q735,588 759,604 L759,632 L705,632 Z" fill="#0e2c62"/>
  <path d="M705,575 Q735,578 759,592" fill="none" stroke="#8c7a30" stroke-width="1.2"/>
  <!-- brown gasket left -->
  <path d="M445,566 Q470,546 514,534 L514,553 Q498,560 488,580 L445,580 Z" fill="url(#gBrownTop)"/>
  <path d="M488,580 Q498,560 514,553 L514,572 Q500,578 494,590 L488,590 Z" fill="#b46c40"/>
  <rect x="445" y="566" width="43" height="15" fill="url(#speckBr)"/>
  <!-- brown gasket right -->
  <path d="M710,524 Q760,536 784,556 Q790,566 784,578 L740,578 Q735,566 710,560 Z" fill="url(#gBrownTop)"/>
  <rect x="740" y="578" width="40" height="13" fill="url(#speckBr)"/>
  <!-- left cut face -->
  <polygon points="372,566 445,566 445,581 470,581 470,655 372,655" fill="url(#speck)"/>
  <path d="M386,565 L386,650 Q410,642 434,650 L434,565 Q410,558 386,565Z" fill="url(#gCylG)"/>
  <!-- right cut face -->
  <polygon points="757,591 779,591 779,584 860,584 860,672 757,672" fill="url(#speck)"/>
  <path d="M795,580 L795,666 Q818,658 842,666 L842,580 Q818,574 795,580Z" fill="url(#gCylG)"/>
  <!-- blue plate -->
  <polygon points="476,623 760,628 760,641 476,636" fill="url(#speckB)"/>
  <rect x="479" y="616" width="22" height="18" rx="3" fill="#4c82cc"/>
  <rect x="484" y="616" width="6" height="18" fill="#7aaae4"/>
</g>
<!-- upper mass filter column -->
<g id="column">
  <rect x="495" y="0" width="10" height="75" fill="#e8e8d8" opacity="0.9"/>
  <rect x="496" y="25" width="7" height="8" fill="#f4ec80"/>
  <rect x="497" y="62" width="6" height="8" fill="#ece070"/>
  <polygon points="507,0 518,0 524,115 512,115" fill="#bcb8a8" opacity="0.45"/>
  <!-- spring -->
  <g fill="none" stroke="#aaa88e" stroke-width="2" stroke-linecap="round">
    <path d="M486.1,13.0 q-6,0 -5,6 q3,5 10,4" stroke="#6e6c58"/>
    <path d="M491.1,23.0 q12,-1 20,-5" opacity="0.35"/>
    <path d="M488.0,29.4 q-6,0 -5,6 q3,5 10,4" stroke="#6e6c58"/>
    <path d="M493.0,39.4 q12,-1 20,-5" opacity="0.35"/>
    <path d="M489.8,45.8 q-6,0 -5,6 q3,5 10,4" stroke="#6e6c58"/>
    <path d="M494.8,55.8 q12,-1 20,-5" opacity="0.35"/>
    <path d="M491.6,62.2 q-6,0 -5,6 q3,5 10,4" stroke="#6e6c58"/>
    <path d="M496.6,72.2 q12,-1 20,-5" opacity="0.35"/>
    <path d="M493.5,78.6 q-6,0 -5,6 q3,5 10,4" stroke="#6e6c58"/>
    <path d="M498.5,88.6 q12,-1 20,-5" opacity="0.35"/>
    <path d="M495.3,95.0 q-6,0 -5,6 q3,5 10,4 q12,-1 20,-5"/>
    <path d="M497.1,111.4 q-6,0 -5,6 q3,5 10,4 q12,-1 20,-5"/>
    <path d="M499.0,127.8 q-6,0 -5,6 q3,5 10,4 q12,-1 20,-5"/>
    <path d="M500.8,144.2 q-6,0 -5,6 q3,5 10,4 q12,-1 20,-5"/>
    <path d="M502.7,160.6 q-6,0 -5,6 q3,5 10,4 q12,-1 20,-5"/>
    <path d="M504.5,177.0 q-6,0 -5,6 q3,5 10,4 q12,-1 20,-5"/>
    <path d="M506.3,193.4 q-6,0 -5,6 q3,5 10,4 q12,-1 20,-5"/>
    <path d="M508.2,209.8 q-6,0 -5,6 q3,5 10,4 q12,-1 20,-5"/>
    <path d="M510.0,226.2 q-6,0 -5,6 q3,5 10,4 q12,-1 20,-5"/>
    <path d="M511.8,242.6 q-6,0 -5,6 q3,5 10,4 q12,-1 20,-5"/>
    <path d="M513.7,259.0 q-6,0 -5,6 q3,5 10,4 q12,-1 20,-5"/>
    <path d="M515.5,275.4 q-6,0 -5,6 q3,5 10,4 q12,-1 20,-5"/>
    <path d="M517.3,291.8 q-6,0 -5,6 q3,5 10,4 q12,-1 20,-5"/>
    <path d="M519.2,308.2 q-6,0 -5,6 q3,5 10,4 q12,-1 20,-5"/>
    <path d="M522.0,326.6 q-5,0 -4,5 q2,4 8,3 q6,0 10,-3"/>
    <path d="M523.9,343.0 q-5,0 -4,5 q2,4 8,3 q6,0 10,-3"/>
    <path d="M525.7,359.4 q-5,0 -4,5 q2,4 8,3 q6,0 10,-3"/>
    <path d="M527.5,375.8 q-5,0 -4,5 q2,4 8,3 q6,0 10,-3"/>
    <path d="M529.4,392.2 q-5,0 -4,5 q2,4 8,3 q6,0 10,-3"/>
  </g>
  <!-- back walls in skewed space -->
  <g transform="matrix(1,0,0.05,1,0,0)">
    <rect x="519" y="0" width="6.5" height="432" fill="#5d8ed6"/>
    <rect x="525" y="0" width="40" height="432" fill="url(#gBlueL)"/>
    <rect x="606" y="0" width="18" height="405" fill="url(#gLB)"/>
    <polygon points="665,0 693,0 694,172 690,182 688,440 665,440" fill="url(#gBlueR)"/>
    <polygon points="689,182 696,185 696,445 688,445" fill="#5b8ad2"/>
    <polygon points="696,185 699,188 699,445 696,445" fill="#1d3f7e"/>
  </g>
  <!-- grey floor -->
  <path d="M544,436 C560,408 600,398 640,398 C675,398 700,410 709,420 L709,428 L544,428 Z" fill="#8f8f92"/>
  <!-- rods -->
  <g transform="matrix(1,0,0.05,1,0,0)">
    <rect x="563" y="0" width="45" height="419" fill="url(#gRod)"/>
    <rect x="622" y="0" width="45" height="421" fill="url(#gRod)"/>
    <rect x="577.7" y="74" width="1.0" height="165" fill="#c8c8cc" opacity="0.7"/>
    <rect x="586.5" y="94" width="1.3" height="157" fill="#d4d4d6" opacity="0.7"/>
    <rect x="595.9" y="167" width="1.0" height="147" fill="#d4d4d6" opacity="0.7"/>
    <rect x="577.6" y="185" width="0.7" height="135" fill="#c8c8cc" opacity="0.7"/>
    <rect x="588.1" y="152" width="0.7" height="163" fill="#7e7e84" opacity="0.7"/>
    <rect x="590.7" y="54" width="1.3" height="163" fill="#86868c" opacity="0.7"/>
    <rect x="589.1" y="79" width="1.3" height="192" fill="#86868c" opacity="0.7"/>
    <rect x="595.1" y="248" width="0.7" height="61" fill="#86868c" opacity="0.7"/>
    <rect x="577.2" y="257" width="1.4" height="85" fill="#7e7e84" opacity="0.7"/>
    <rect x="582.1" y="275" width="1.3" height="81" fill="#86868c" opacity="0.7"/>
    <rect x="586.0" y="289" width="1.3" height="97" fill="#7e7e84" opacity="0.7"/>
    <rect x="595.8" y="221" width="1.1" height="94" fill="#c8c8cc" opacity="0.7"/>
    <rect x="648.1" y="166" width="0.8" height="160" fill="#7e7e84" opacity="0.7"/>
    <rect x="634.0" y="128" width="1.0" height="148" fill="#7e7e84" opacity="0.7"/>
    <rect x="650.2" y="30" width="0.9" height="121" fill="#86868c" opacity="0.7"/>
    <rect x="651.9" y="123" width="0.6" height="86" fill="#7e7e84" opacity="0.7"/>
    <rect x="644.2" y="56" width="1.3" height="113" fill="#c8c8cc" opacity="0.7"/>
    <rect x="638.4" y="120" width="0.7" height="84" fill="#d4d4d6" opacity="0.7"/>
    <rect x="654.3" y="53" width="0.8" height="177" fill="#7e7e84" opacity="0.7"/>
    <rect x="638.5" y="317" width="1.4" height="75" fill="#86868c" opacity="0.7"/>
    <rect x="651.9" y="313" width="0.9" height="87" fill="#c8c8cc" opacity="0.7"/>
    <rect x="645.9" y="266" width="1.4" height="77" fill="#d4d4d6" opacity="0.7"/>
    <rect x="653.5" y="234" width="0.9" height="72" fill="#7e7e84" opacity="0.7"/>
    <rect x="631.3" y="275" width="0.9" height="61" fill="#d4d4d6" opacity="0.7"/>
  </g>
  <path d="M583,418 Q605,424 628,418" fill="none" stroke="#a8a070" stroke-width="2"/>
  <path d="M642,420 Q664,426 687,420" fill="none" stroke="#a8a070" stroke-width="2"/>
  <!-- small pin right -->
  <rect x="692" y="353" width="14" height="72" fill="#b8b8b4"/>
  <rect x="692" y="353" width="3" height="72" fill="#d0ceb0"/>
  <rect x="700" y="353" width="3" height="72" fill="#dcdcd8"/>
  <rect x="683" y="375" width="8" height="42" fill="#c8c098"/>

  

</g>
<!-- detector block -->
<g id="detector">
  <!-- slab -->
  <polygon points="544,424 709,426 709,452 544,452" fill="url(#speckG)"/>
  <!-- dark navy region below housing -->
  <polygon points="498,600 760,600 760,628 498,624" fill="#0d2a5c"/>
  <!-- EM block -->
  <polygon points="510,450 523,437 566,437 553,450" fill="#525254"/>
  <polygon points="510,450 553,450 566,446 612,446 612,622 510,622" fill="url(#speckG)"/>
  <!-- teal housing frame -->
  <rect x="563" y="446" width="145" height="6" fill="url(#speckT)"/>
  <rect x="566" y="488" width="147" height="10" fill="url(#speckT)"/>
  <rect x="566" y="495" width="9" height="118" fill="#121a1a"/>
  <rect x="574" y="491" width="8" height="136" fill="url(#speckT)"/>
  <rect x="680" y="494" width="7" height="133" fill="url(#speckT)"/>
  <rect x="687" y="498" width="13" height="129" fill="#3c6cd0"/>
  <rect x="700" y="452" width="9" height="175" fill="#bab6ba"/>
  <rect x="702" y="452" width="3" height="175" fill="#d8d6d8"/>
  <rect x="582" y="478" width="98" height="24" fill="#1f6e66"/>
  <!-- upper chamber right -->
  <rect x="673" y="452" width="27" height="30" fill="#3a68c8"/>
  <rect x="673" y="478" width="27" height="16" fill="#1e3444"/>
  <rect x="667" y="452" width="7" height="44" fill="url(#speckT)"/>
  <path d="M707,480 Q716,482 714,494 L707,497 Z" fill="#3aa896"/>
  <!-- upper teal cylinder -->
  <rect x="603" y="452" width="20" height="34" fill="#142624"/>
  <rect x="609" y="452" width="12" height="18" fill="#80a8e0"/>
  <rect x="622" y="452" width="45" height="32" fill="url(#gTeal2)"/>
  <!-- exit aperture tube -->
  <rect x="609" y="416" width="37" height="34" fill="url(#gTeal)"/>
  <ellipse cx="627.5" cy="416" rx="18.5" ry="4" fill="#4cc4b2" stroke="#1e6a60" stroke-width="1"/>
  <path d="M609,428 Q627,432 646,428" fill="none" stroke="#1e6a60" stroke-width="1.2"/>
  <!-- wedge -->
  <polygon points="576,466 603,454 603,486 596,484 560,478" fill="#4a4248"/>
  <polygon points="560,478 596,484 603,486 598,492 562,484" fill="#6e666c"/>
  <!-- large teal cylinder -->
  <path d="M582,498 Q600,486 632,484 Q662,486 680,498 L680,590 L582,590 Z" fill="url(#gTeal)"/>
  <rect x="582" y="588" width="14" height="32" fill="#1f6e66"/>
  <rect x="676" y="588" width="5" height="32" fill="#1f6e66"/>
  <path d="M582,498 Q600,486 632,484 Q662,486 680,498" fill="none" stroke="#2a8a7e" stroke-width="3"/>
  <!-- pink cup -->
  <path d="M596,552 Q634,532 675,552 L675,622 L596,622 Z" fill="url(#gPink)"/>
  <path d="M596,552 Q634,532 675,552" fill="none" stroke="#6a1a5a" stroke-width="1.6"/>
  <path d="M598,596 Q636,584 674,596 L674,603 Q636,592 598,603 Z" fill="#a85878"/>
  <path d="M597,621 Q636,606 675,621 L675,626 L597,626 Z" fill="#0d2a5c"/>
  <!-- pin cross -->
  <rect x="627" y="559" width="16" height="80" fill="url(#speck)"/>
  <rect x="617" y="580" width="37" height="16" fill="url(#speck)"/>
  <polygon points="617,580 621,577 650,577 654,580" fill="#c0c0a0"/>
  <rect x="615" y="604" width="44" height="22" fill="url(#speck)"/>
  <!-- EM arc -->
  <path d="M567,469 A45,67 0 0 0 522,536 A45,67 0 0 0 568,603" fill="none" stroke="#333234" stroke-width="5"/>
  <rect x="566" y="598" width="12" height="24" fill="#1a1a1e"/>
</g>
<!-- arrows -->
<g id="arrows" fill="#000" stroke="#000" stroke-linecap="butt">
  <line x1="797" y1="225" x2="712" y2="268" stroke-width="5.5"/>
  <polygon points="679,285 716,253 727,274" stroke="none"/>
  <line x1="358" y1="290" x2="542" y2="440" stroke-width="5.5"/>
  <polygon points="576,465 530,446 546,427" stroke="none"/>
  <line x1="798" y1="338" x2="685" y2="405" stroke-width="5.5"/>
  <polygon points="647,427 682,394 693,413" stroke="none"/>
  <line x1="276" y1="508" x2="470" y2="492" stroke-width="5.5"/>
  <polygon points="512,488 464,481 466,504" stroke="none"/>
  <line x1="861" y1="504" x2="705" y2="548" stroke-width="5.5"/>
  <polygon points="663,561 706,537 713,559" stroke="none"/>
  <line x1="262" y1="638" x2="520" y2="614" stroke-width="5.5"/>
  <polygon points="565,609 516,603 519,625" stroke="none"/>
</g>
<!-- labels -->
<g id="labels" stroke-linejoin="round" font-size="35" stroke-width="2">
  <text x="130" y="242.5" fill="#666" stroke="#666" textLength="61" lengthAdjust="spacingAndGlyphs">Ion</text>
  <text x="129" y="285.2" fill="#666" stroke="#666" textLength="177" lengthAdjust="spacingAndGlyphs">entrance</text>
  <text x="36" y="422.3" fill="#000" stroke="#000" textLength="166.5" lengthAdjust="spacingAndGlyphs">Electron</text>
  <text x="36" y="465.1" fill="#000" stroke="#000" textLength="185.5" lengthAdjust="spacingAndGlyphs">Multiplier</text>
  <text x="34.5" y="629.5" fill="#666" stroke="#666" textLength="164" lengthAdjust="spacingAndGlyphs">Electron</text>
  <text x="34.5" y="672.1" fill="#666" stroke="#666" textLength="76" lengthAdjust="spacingAndGlyphs">Exit</text>
  <text x="743" y="191.2" fill="#c8c8c8" stroke="#c8c8c8" textLength="217" lengthAdjust="spacingAndGlyphs">Mass Filter</text>
  <text x="740" y="326.8" fill="#5f9a98" stroke="#5f9a98" textLength="264.5" lengthAdjust="spacingAndGlyphs">Exit Aperture</text>
  <text x="760" y="454.3" fill="#f49ac8" stroke="#f49ac8" textLength="157" lengthAdjust="spacingAndGlyphs">Faraday</text>
  <text x="760" y="498.2" fill="#f49ac8" stroke="#f49ac8" textLength="171" lengthAdjust="spacingAndGlyphs">Detector</text>
</g>
</svg>
</body></html>
